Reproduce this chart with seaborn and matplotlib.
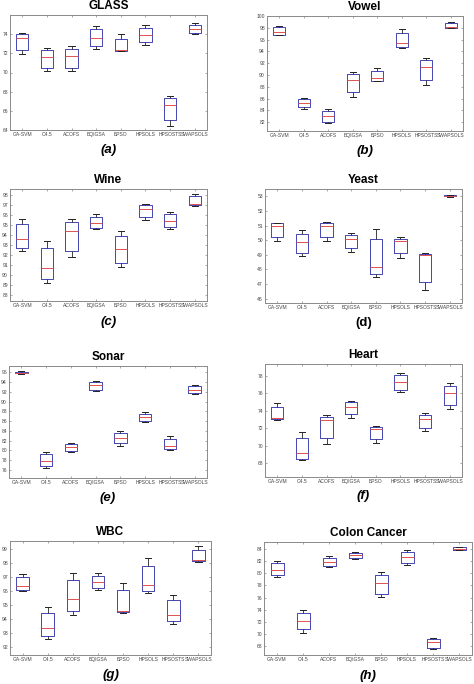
import numpy as np
import pandas as pd
import seaborn as sns
import matplotlib.pyplot as plt

plt.rcParams["font.family"] = ["Liberation Sans", "DejaVu Sans"]

methods = ["GA-SVM", "C4.5", "ACOFS", "BQIGSA", "BPSO", "HPSOLS", "HPSOSTS", "SWAPSOLS"]

# five-number summaries per method: min, q1, median, q3, max
glass = [[71.9, 72.35, 73.6, 74.0, 74.1], [70.15, 70.5, 71.65, 72.3, 72.55],
         [70.15, 70.5, 71.75, 72.45, 72.8], [72.45, 72.75, 73.65, 74.5, 74.85],
         [72.2, 72.25, 72.3, 73.5, 74.0], [72.9, 73.15, 73.95, 74.6, 74.95],
         [64.45, 65.05, 66.6, 67.3, 67.55], [74.0, 74.1, 74.5, 75.0, 75.2]]
vowel = [[96.8, 96.85, 97.35, 98.1, 98.35], [84.2, 84.5, 85.2, 85.95, 86.15],
         [81.9, 82.1, 83.05, 83.9, 84.2], [86.2, 87.05, 89.15, 90.2, 90.5],
         [89.0, 89.05, 89.55, 90.75, 91.15], [94.65, 94.75, 95.5, 97.2, 97.75],
         [88.35, 89.15, 91.35, 92.55, 92.8], [97.9, 98.0, 98.2, 98.75, 99.05]]
wine = [[92.4, 92.7, 93.6, 95.1, 95.6], [89.2, 89.6, 90.7, 92.7, 93.4],
        [91.8, 92.4, 94.4, 95.3, 95.6], [94.6, 94.75, 95.25, 95.85, 96.1],
        [90.8, 91.25, 92.6, 93.9, 94.4], [95.5, 95.8, 96.65, 97.0, 97.1],
        [94.6, 94.8, 95.4, 96.1, 96.3], [96.95, 97.0, 97.1, 97.9, 98.15]]
yeast = [[49.97, 50.2, 50.98, 51.15, 51.2], [48.9, 49.1, 49.9, 50.4, 50.7],
         [49.97, 50.2, 50.98, 51.16, 51.23], [49.2, 49.45, 50.1, 50.37, 50.48],
         [47.5, 47.7, 48.14, 50.1, 50.75], [48.8, 49.1, 49.95, 50.1, 50.2],
         [46.58, 47.15, 48.98, 49.05, 49.15], [52.98, 53.0, 53.02, 53.07, 53.1]]
sonar = [[95.73, 95.8, 95.93, 96.07, 96.27], [76.3, 76.68, 77.7, 79.26, 79.74],
         [79.54, 79.88, 80.63, 81.24, 81.44], [92.26, 92.46, 93.35, 94.03, 94.23],
         [80.97, 81.44, 82.46, 83.5, 83.9], [85.8, 86.0, 86.75, 87.43, 87.84],
         [79.95, 80.2, 80.9, 82.4, 82.94], [91.57, 91.78, 92.46, 93.14, 93.4]]
heart = [[72.9, 73.0, 73.2, 74.4, 74.85], [68.3, 68.5, 69.1, 70.9, 71.5],
         [70.2, 70.9, 72.9, 73.3, 73.5], [73.2, 73.6, 74.46, 74.96, 75.15],
         [70.35, 70.7, 71.85, 72.1, 72.27], [76.12, 76.38, 77.27, 78.04, 78.3],
         [71.7, 72.0, 73.04, 73.46, 73.7], [74.15, 74.6, 76.0, 76.85, 77.15]]
wbc = [[96.02, 96.07, 96.35, 96.96, 97.19], [92.6, 92.78, 93.37, 94.47, 94.89],
       [94.3, 94.59, 95.43, 96.77, 97.24], [96.07, 96.18, 96.6, 97.07, 97.24],
       [94.45, 94.49, 94.59, 96.07, 96.53], [95.88, 96.02, 96.42, 97.78, 98.3],
       [93.67, 93.84, 94.3, 95.36, 95.71], [98.06, 98.11, 98.18, 98.93, 99.19]]
colon = [[79.43, 79.65, 80.52, 81.66, 82.04], [70.23, 70.78, 72.14, 73.5, 73.93],
         [80.95, 81.12, 81.77, 82.48, 82.86], [82.3, 82.48, 82.9, 83.3, 83.5],
         [76.1, 76.65, 78.4, 79.76, 80.19], [81.33, 81.66, 82.58, 83.46, 83.84],
         [67.51, 67.78, 68.76, 69.25, 69.41], [83.78, 83.84, 84.0, 84.22, 84.33]]

titles = ["GLASS", "Vowel", "Wine", "Yeast", "Sonar", "Heart", "WBC", "Colon Cancer"]
labels = ["(a)", "(b)", "(c)", "(d)", "(e)", "(f)", "(g)", "(h)"]
ylims = [(64, 76), (80.5, 100), (87.4, 98.6), (45.7, 53.5),
         (74.3, 97.3), (66.4, 79.35), (91.46, 99.54), (66.6, 85.1)]
yticks = [[64, 66, 68, 70, 72, 74], [82, 84, 86, 88, 90, 92, 94, 96, 98, 100],
          [88, 89, 90, 91, 92, 93, 94, 95, 96, 97, 98], [46, 47, 48, 49, 50, 51, 52, 53],
          [76, 78, 80, 82, 84, 86, 88, 90, 92, 94, 96], [68, 70, 72, 74, 76, 78],
          [92, 93, 94, 95, 96, 97, 98, 99], [68, 70, 72, 74, 76, 78, 80, 82, 84]]
panels = [glass, vowel, wine, yeast, sonar, heart, wbc, colon]

# axes boxes in pixels: left, top, right, bottom
boxes = [(10, 15, 207, 130), (267, 16, 463, 131),
         (10, 189, 207, 301), (265, 189, 462, 303),
         (9, 366, 207, 478), (265, 364, 462, 477),
         (10, 541, 211, 655), (264, 542, 472, 655)]
label_y = [150, 151, 322, 323, 498, 496, 675, 676]

W, H = 474, 684
fig = plt.figure(figsize=(W / 100, H / 100), dpi=100)

for i, data in enumerate(panels):
    l, t, r, b = boxes[i]
    ax = fig.add_axes([l / W, 1 - b / H, (r - l) / W, (b - t) / H])
    df = pd.DataFrame({
        "method": np.repeat(methods, 5),
        "value": np.concatenate(data),
    })
    sns.boxplot(data=df, x="method", y="value", order=methods, ax=ax,
                width=0.5, whis=(0, 100), fill=False, color="#3c3cc0",
                linewidth=0.7,
                boxprops=dict(color="#4646b4"),
                medianprops=dict(color="#e05050", linewidth=0.7),
                whiskerprops=dict(color="#222222", linewidth=0.6),
                capprops=dict(color="#222222", linewidth=0.7))
    ax.set_xlim(-0.5, 7.5)
    ax.set_ylim(*ylims[i])
    ax.set_yticks(yticks[i])
    ax.set_xlabel("")
    ax.set_ylabel("")
    ax.tick_params(direction="in", top=True, right=True, length=1.5, width=0.4,
                   labelsize=3.6, labelcolor="#444444", color="#666666", pad=1.5)
    for s in ax.spines.values():
        s.set_color("#8a8a8a")
        s.set_linewidth(0.7)
    ax.set_title(titles[i], fontsize=8.5, fontweight="bold", pad=4)
    style = "normal" if labels[i] == "(d)" else "italic"
    fig.text(((l + r) / 2) / W, 1 - label_y[i] / H, labels[i], ha="center", va="center",
             fontsize=9.5, fontweight="bold", style=style)

fig.savefig("out.png", dpi=100)
